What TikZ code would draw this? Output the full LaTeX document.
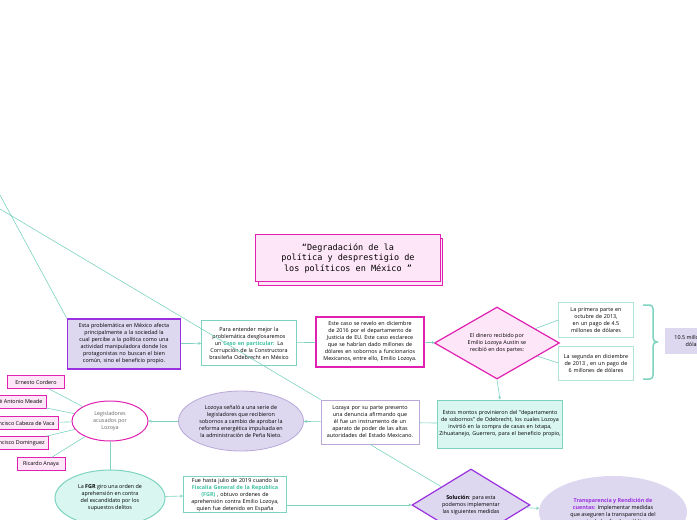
\documentclass[tikz,border=0pt]{standalone}
\usepackage{fontspec}
\setmainfont{Open Sans}
\setmonofont{DejaVu Sans Mono}
\usetikzlibrary{shapes.geometric,arrows.meta}
\hyphenpenalty=10000
\exhyphenpenalty=10000
\definecolor{teal1}{HTML}{7DD3C0}
\definecolor{tealf}{HTML}{D9F7F0}
\definecolor{mag}{HTML}{E020B0}
\definecolor{pinkf}{HTML}{FDE6F8}
\definecolor{purp}{HTML}{9B30E0}
\definecolor{lav}{HTML}{DDD7EF}
\definecolor{lavb}{HTML}{B9A8D8}
\definecolor{tgreen}{HTML}{3CC0A0}
\tikzset{
 txt/.style={font=\fontsize{5.4}{7}\selectfont, align=center, inner sep=1.5pt},
 conn/.style={draw=teal1, line width=0.6pt},
 arr/.style={conn,-{Stealth[length=3pt,width=3pt]}},
 namebox/.style={txt, draw=mag, fill=pinkf, line width=0.5pt, minimum height=13pt}
}
\begin{document}
\begin{tikzpicture}[x=1pt,y=-1pt]
\useasboundingbox (0,0) rectangle (697,520);
\clip (0,0) rectangle (697,520);
\coordinate (tl1) at (0,195);
\coordinate (tl2) at (0,209);
% title
\fill[pinkf,draw=mag,line width=0.6pt] (258,238) rectangle (442,285);
\node[txt, draw=mag, fill=pinkf, line width=0.8pt, minimum width=185pt, minimum height=47pt, font=\ttfamily\fontsize{8.5}{10.5}\selectfont] (title) at (348,258) {“Degradación de la\\política y desprestigio de\\los políticos en México ”};
% row 1
\node[txt, draw=purp, fill=lav, line width=1.3pt, text width=110pt, minimum height=50pt] (prob) at (124,344) {Esta problemática en México afecta principalmente a la sociedad la cual percibe a la política como una actividad manipuladora donde los protagonistas no buscan el bien común, sino el beneficio propio.};
\node[txt, draw=teal1, line width=0.8pt, text width=92pt, minimum height=45pt] (para) at (249,343) {Para entender mejor la problemática desglosaremos un \textcolor{tgreen}{\bfseries Caso en particular:} La Corrupción de la Constructora brasileña Odebrecht en México};
\node[txt, draw=mag, line width=1.2pt, text width=105pt, minimum height=50pt] (caso) at (370,342) {Este caso se revelo en diciembre de 2016 por el departamento de Justicia de EU. Este caso esclarece que se habrían dado millones de dólares en sobornos a funcionarios Mexicanos, entre ello, Emilio Lozoya.};
\node[txt, diamond, draw=mag, fill=pinkf, line width=1.2pt, aspect=1.75, minimum width=125pt, minimum height=72pt, inner sep=0pt] (dinero) at (497,343) {El dinero recibido por\\Emilio Lozoya Austin se\\recibió en dos partes:};
\node[txt, draw=teal1!60, text width=72pt, minimum height=35pt] (prim) at (596,320) {La primera parte en octubre de 2013, en un pago de 4.5 millones de dólares};
\node[txt, draw=teal1!60, text width=72pt, minimum height=34pt] (seg) at (596,363) {La segunda en diciembre de 2013 , en un pago de 6 millones de dólares};
\draw[draw=teal1, line width=1.5pt] (643,305) -- (650,305) to[out=0,in=90] (653,309) -- (653,338) to[out=270,in=180] (657,342) to[out=180,in=90] (653,346) -- (653,375) to[out=270,in=0] (650,379) -- (643,379);
\node[txt, fill=lav, minimum width=60pt, minimum height=26pt, align=center] (tot) at (695,341) {10.5 millones de\\dólares};
% row 2
\node[txt, draw=lavb, line width=0.8pt, text width=95pt, minimum height=44pt] (loz) at (370,422) {Lozaya por su parte presento una denuncia afirmando que él fue un instrumento de un aparato de poder de las altas autoridades del Estado Mexicano.};
\node[txt, draw=teal1, fill=tealf, line width=1pt, text width=122pt, minimum height=48pt] (montos) at (500,424) {Estos montos provinieron del "departamento de sobornos" de Odebrecht, los cuales Lozoya invirtió en la compra de casas en Ixtapa, Zihuatanejo, Guerrero, para el beneficio propio,};
\node[txt, ellipse, draw=lavb, fill=lav, line width=0.8pt, minimum width=125pt, minimum height=60pt, inner sep=0pt] (senal) at (241,421) {Lozoya señaló a una serie de\\legisladores que recibieron\\sobornos a cambio de aprobar la\\reforma energética impulsada en\\la administración de Peña Nieto.};
\node[txt, ellipse, draw=mag, line width=1pt, minimum width=76pt, minimum height=40pt, inner sep=0pt, text=gray!80!black] (leg) at (110,421) {Legisladores\\acusados por\\Lozoya};
\node[namebox, minimum width=57pt] (n1) at (36,382) {Ernesto Cordero};
\node[namebox, anchor=east, minimum width=57pt] (n2) at (46,402) {José Antonio Meade};
\node[namebox, anchor=east, minimum width=70pt] (n3) at (58,423) {Francisco Cabeza de Vaca};
\node[namebox, anchor=east, minimum width=60pt] (n4) at (48,443) {Francisco Dominguez};
\node[namebox, minimum width=48pt] (n5) at (41,464) {Ricardo Anaya};
% row 3
\node[txt, ellipse, draw=teal1, fill=tealf, line width=1pt, minimum width=110pt, minimum height=56pt, inner sep=0pt] (fgr) at (110,498) {La \textbf{FGR} giro una orden de\\aprehensión en contra\\del excandidato por los\\supuestos delitos};
\node[txt, draw=teal1, line width=0.8pt, text width=100pt, anchor=north] (fue) at (235,476) {Fue hasta julio de 2019 cuando la \textcolor{tgreen}{\bfseries Fiscalía General de la Republica (FGR)} , obtuvo ordenes de aprehensión contra Emilio Lozoya, quien fue detenido en España};
\node[txt, diamond, draw=purp, fill=lav, line width=1.2pt, aspect=1.65, minimum width=118pt, minimum height=72pt, inner sep=0pt] (sol) at (471,505) {\textbf{Solución}: para esta\\podemos implementar\\las siguientes medidas};
\node[txt, ellipse, fill=lav, minimum width=148pt, minimum height=72pt, inner sep=0pt] (transp) at (613,512) {\textcolor{purp}{\bfseries Transparencia y Rendición de}\\\textcolor{purp}{\bfseries cuentas:} Implementar medidas\\que aseguren la transparencia del\\manejo de los fondos públicos y};
% connectors
\draw[conn] (tl1) -- (prob.north west);
\draw[conn] (tl2) -- (loz.north west);
\draw[arr] (prob) -- (para);
\draw[conn] (para) -- (caso);
\draw[arr] (caso) -- (dinero);
\draw[conn] (dinero) -- (prim.west);
\draw[conn] (dinero) -- (seg.west);
\draw[arr] (dinero.south) -- (montos.north);
\draw[conn] (montos) -- (loz);
\draw[arr] (loz) -- (senal);
\draw[arr] (senal) -- (leg);
\foreach \n in {n1,n2,n3,n4,n5} \draw[conn] (leg) -- (\n);
\draw[conn] (leg) -- (fgr);
\draw[arr] (fgr) -- (fue);
\draw[arr] (fue.east |- sol) -- (sol);
\draw[conn] (loz.south) -- (sol.north west);
\draw[arr] (sol) -- (transp);
\end{tikzpicture}
\end{document}
